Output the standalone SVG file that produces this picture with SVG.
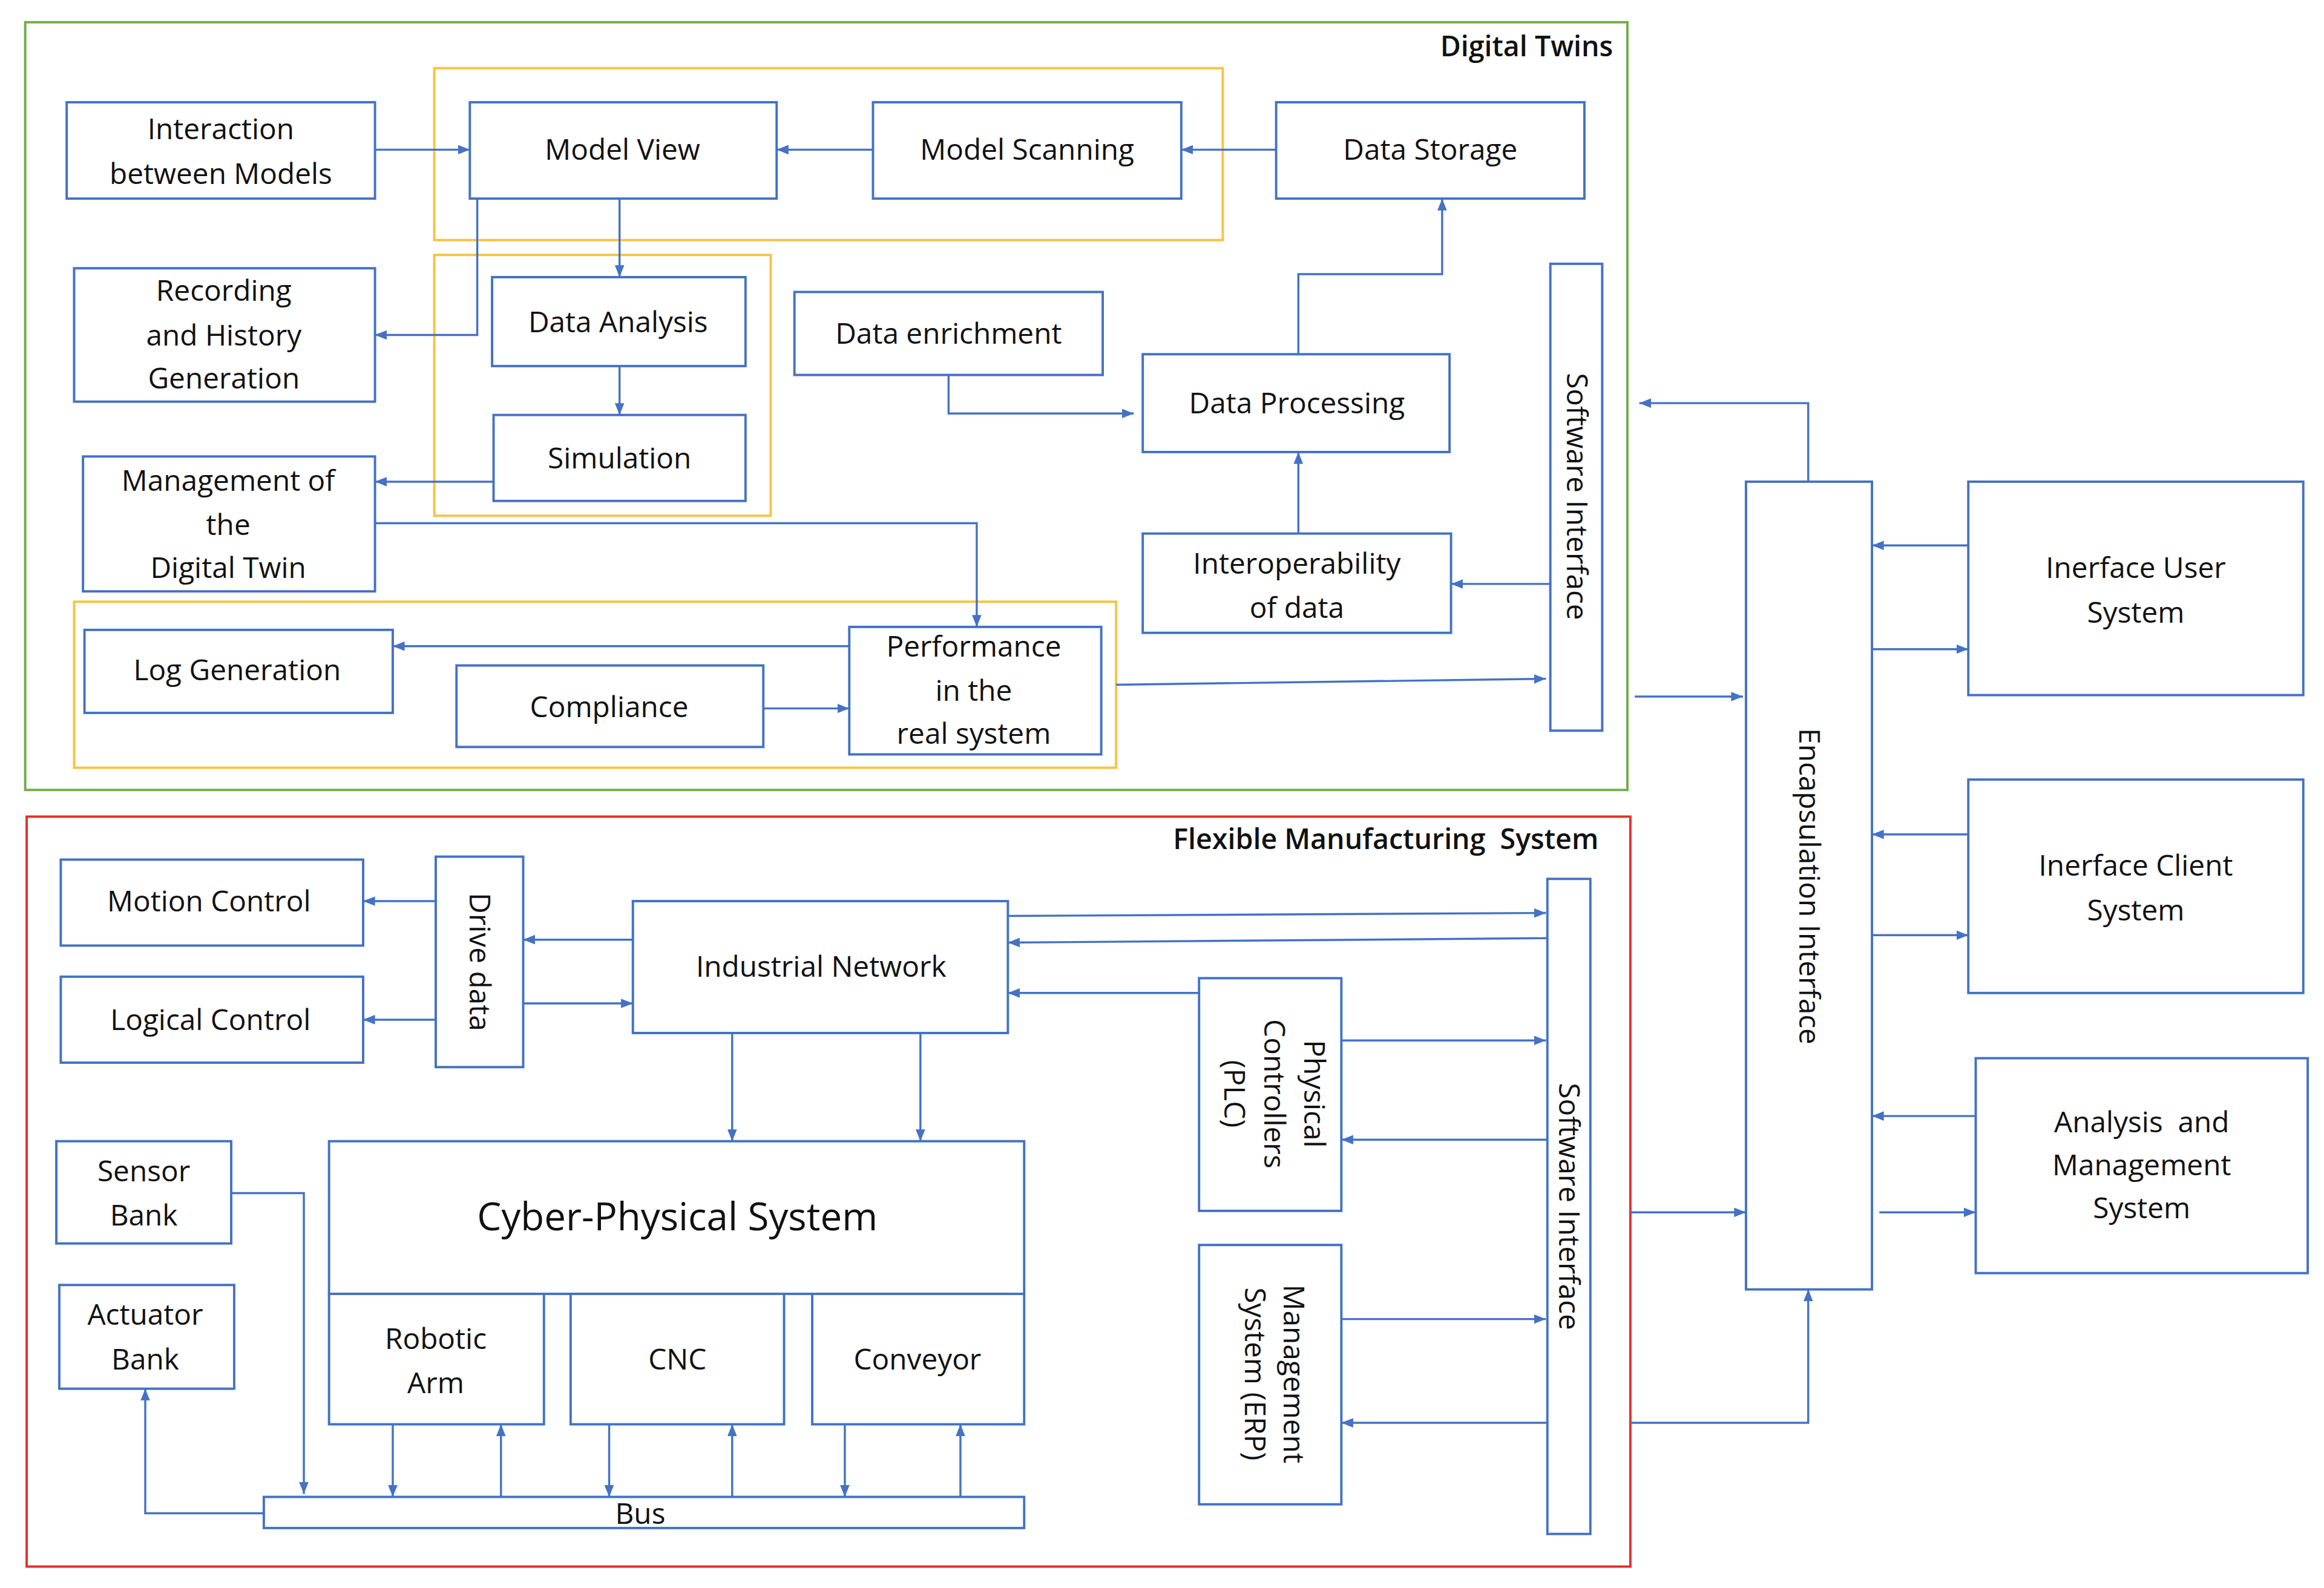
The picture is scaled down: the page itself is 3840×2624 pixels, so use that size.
<svg xmlns="http://www.w3.org/2000/svg" width="3840" height="2624" viewBox="0 0 3840 2624">
<defs>
<style>
.n{fill:#fff;stroke:#4472c4;stroke-width:1.6}
.t{font-family:"Open Sans","Noto Sans",sans-serif;font-size:19.5px;fill:#111;text-anchor:middle}
.h{font-weight:600;font-size:19px}
.c path{fill:none;stroke:#4472c4;stroke-width:1.4;marker-end:url(#a)}
.y{fill:none;stroke:#f7c342;stroke-width:1.6}
</style>
<marker id="a" viewBox="0 0 10 10" refX="10" refY="5" markerWidth="8" markerHeight="8" markerUnits="userSpaceOnUse" orient="auto"><path d="M0,1 L10,5 L0,9 z" fill="#4472c4"/></marker>
</defs>
<rect width="3840" height="2624" fill="#fff"/>
<g transform="scale(2.449)">
<rect x="17" y="15" width="1081" height="518" fill="none" stroke="#70ad47" stroke-width="1.6"/>
<text class="t h" x="1030" y="38">Digital Twins</text>
<rect x="18" y="551" width="1082" height="506" fill="none" stroke="#e0302f" stroke-width="1.6"/>
<text class="t h" x="935" y="573" xml:space="preserve">Flexible Manufacturing  System</text>
<rect class="y" x="293" y="46" width="532" height="116"/>
<rect class="y" x="293" y="172" width="227" height="176"/>
<rect class="y" x="50" y="406" width="703" height="112"/>

<g id="interaction"><rect class="n" x="45" y="69" width="208" height="65"/><text class="t" x="149" y="94">Interaction</text><text class="t" x="149" y="124">between Models</text></g>
<g id="modelview"><rect class="n" x="317" y="69" width="207" height="65"/><text class="t" x="420" y="108">Model View</text></g>
<g id="modelscanning"><rect class="n" x="589" y="69" width="208" height="65"/><text class="t" x="693" y="108">Model Scanning</text></g>
<g id="datastorage"><rect class="n" x="861" y="69" width="208" height="65"/><text class="t" x="965" y="108">Data Storage</text></g>
<g id="recording"><rect class="n" x="50" y="181" width="203" height="90"/><text class="t" x="151" y="203">Recording</text><text class="t" x="151" y="233">and History</text><text class="t" x="151" y="262">Generation</text></g>
<g id="dataanalysis"><rect class="n" x="332" y="187" width="171" height="60"/><text class="t" x="417" y="224">Data Analysis</text></g>
<g id="simulation"><rect class="n" x="333" y="280" width="170" height="58"/><text class="t" x="418" y="316">Simulation</text></g>
<g id="dataenrichment"><rect class="n" x="536" y="197" width="208" height="56"/><text class="t" x="640" y="232">Data enrichment</text></g>
<g id="dataprocessing"><rect class="n" x="771" y="239" width="207" height="66"/><text class="t" x="875" y="279">Data Processing</text></g>
<g id="management"><rect class="n" x="56" y="308" width="197" height="91"/><text class="t" x="154" y="331">Management of</text><text class="t" x="154" y="361">the</text><text class="t" x="154" y="390">Digital Twin</text></g>
<g id="interop"><rect class="n" x="771" y="360" width="208" height="67"/><text class="t" x="875" y="387">Interoperability</text><text class="t" x="875" y="417">of data</text></g>
<g id="swdt"><rect class="n" x="1046" y="178" width="35" height="315"/><text class="t" transform="translate(1057,335) rotate(90)">Software Interface</text></g>
<g id="loggen"><rect class="n" x="57" y="425" width="208" height="56"/><text class="t" x="160" y="459">Log Generation</text></g>
<g id="compliance"><rect class="n" x="308" y="449" width="207" height="55"/><text class="t" x="411" y="484">Compliance</text></g>
<g id="performance"><rect class="n" x="573" y="423" width="170" height="86"/><text class="t" x="657" y="443">Performance</text><text class="t" x="657" y="473">in the</text><text class="t" x="657" y="502">real system</text></g>

<g id="motion"><rect class="n" x="41" y="580" width="204" height="58"/><text class="t" x="141" y="615">Motion Control</text></g>
<g id="drivedata"><rect class="n" x="294" y="578" width="59" height="142"/><text class="t" transform="translate(317,649) rotate(90)">Drive data</text></g>
<g id="logical"><rect class="n" x="41" y="659" width="204" height="58"/><text class="t" x="142" y="695">Logical Control</text></g>
<g id="indnet"><rect class="n" x="427" y="608" width="253" height="89"/><text class="t" x="554" y="659">Industrial Network</text></g>
<g id="plc"><rect class="n" x="809" y="660" width="96" height="157"/><text class="t" transform="translate(880,738) rotate(90)"><tspan x="0" y="0">Physical</tspan><tspan x="0" y="27">Controllers</tspan><tspan x="0" y="54">(PLC)</tspan></text></g>
<g id="swfms"><rect class="n" x="1044" y="593" width="29" height="442"/><text class="t" transform="translate(1052,814) rotate(90)">Software Interface</text></g>
<g id="sensor"><rect class="n" x="38" y="770" width="118" height="69"/><text class="t" x="97" y="797">Sensor</text><text class="t" x="97" y="827">Bank</text></g>
<g id="actuator"><rect class="n" x="40" y="867" width="118" height="70"/><text class="t" x="98" y="894">Actuator</text><text class="t" x="98" y="924">Bank</text></g>
<g id="cps"><rect class="n" x="222" y="770" width="469" height="103"/><text class="t" x="457" y="830" style="font-size:26px">Cyber-Physical System</text></g>
<g id="robotic"><rect class="n" x="222" y="873" width="145" height="88"/><text class="t" x="294" y="910">Robotic</text><text class="t" x="294" y="940">Arm</text></g>
<g id="cnc"><rect class="n" x="385" y="873" width="144" height="88"/><text class="t" x="457" y="924">CNC</text></g>
<g id="conveyor"><rect class="n" x="548" y="873" width="143" height="88"/><text class="t" x="619" y="924">Conveyor</text></g>
<g id="erp"><rect class="n" x="809" y="840" width="96" height="175"/><text class="t" transform="translate(866,927) rotate(90)"><tspan x="0" y="0">Management</tspan><tspan x="0" y="26">System (ERP)</tspan></text></g>
<g id="bus"><rect class="n" x="178" y="1010" width="513" height="21"/><text class="t" x="432" y="1028">Bus</text></g>

<g id="encap"><rect class="n" x="1178" y="325" width="85" height="545"/><text class="t" transform="translate(1214,598) rotate(90)">Encapsulation Interface</text></g>
<g id="user"><rect class="n" x="1328" y="325" width="226" height="144"/><text class="t" x="1441" y="390">Inerface User</text><text class="t" x="1441" y="420">System</text></g>
<g id="client"><rect class="n" x="1328" y="526" width="226" height="144"/><text class="t" x="1441" y="591">Inerface Client</text><text class="t" x="1441" y="621">System</text></g>
<g id="analysis"><rect class="n" x="1333" y="714" width="224" height="145"/><text class="t" x="1445" y="764" xml:space="preserve">Analysis  and</text><text class="t" x="1445" y="793">Management</text><text class="t" x="1445" y="822">System</text></g>

<g id="connectors" class="c">
<path d="M253,101 H317"/><path d="M589,101 H524"/><path d="M861,101 H797"/>
<path d="M418,134 V187"/><path d="M322,134 V226 H253"/><path d="M418,247 V280"/>
<path d="M333,325 H253"/><path d="M253,353 H659 V423"/><path d="M573,436 H265"/>
<path d="M515,478 H573"/><path d="M753,462 L1043,458"/><path d="M640,253 V279 H765"/>
<path d="M876,360 V305"/><path d="M876,239 V185 H973 V134"/><path d="M1046,394 H979"/>
<path d="M1220,325 V272 H1106"/><path d="M1103,470 H1176"/>
<path d="M1328,368 H1263"/><path d="M1263,438 H1328"/>
<path d="M1328,563 H1263"/><path d="M1263,631 H1328"/>
<path d="M1333,753 H1263"/><path d="M1268,818 H1333"/>
<path d="M1100,818 H1178"/><path d="M1100,960 H1220 V870"/>
<path d="M427,634 H353"/><path d="M353,677 H427"/>
<path d="M294,608 H245"/><path d="M294,688 H245"/>
<path d="M680,618 L1043,616"/><path d="M1044,633 L680,636"/>
<path d="M809,670 H680"/>
<path d="M905,702 H1043"/><path d="M1044,769 H905"/>
<path d="M905,890 H1043"/><path d="M1044,960 H905"/>
<path d="M494,697 V770"/><path d="M621,697 V770"/>
<path d="M156,805 H205 V1008"/><path d="M178,1021 H98 V937"/>
<path d="M265,961 V1010"/><path d="M338,1010 V961"/>
<path d="M411,961 V1010"/><path d="M494,1010 V961"/>
<path d="M570,961 V1010"/><path d="M648,1010 V961"/>
</g>
</g>
</svg>
